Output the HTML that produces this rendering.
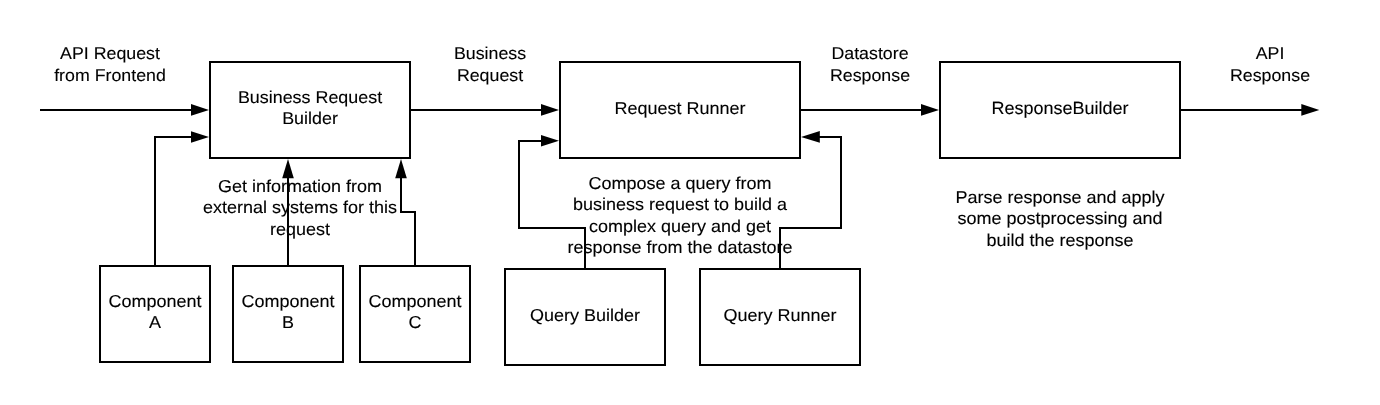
<!DOCTYPE html>
<html lang="en">
<head>
<meta charset="utf-8">
<title>Request pipeline diagram</title>
<style>
html,body{margin:0;padding:0;background:#fff;}
body{width:1380px;height:405px;overflow:hidden;}
svg{display:block;will-change:transform;}
text{font-family:"Liberation Sans",Arial,Helvetica,sans-serif;font-size:18px;text-rendering:geometricPrecision;fill:#000;stroke:#000;stroke-width:0.12px;text-anchor:middle;}
.b{fill:#fff;stroke:#000;stroke-width:2;}
.l{fill:none;stroke:#000;stroke-width:2;stroke-linejoin:miter;}
.h{fill:#000;stroke:none;}
</style>
</head>
<body>
<svg width="1380" height="405" viewBox="0 0 1380 405">
<rect x="0" y="0" width="1380" height="405" fill="#fff"/>
<!-- connectors -->
<g class="l">
<path d="M40 109.9H192"/>
<path d="M410 109.9H542"/>
<path d="M800 109.9H922"/>
<path d="M1180 109.9H1302"/>
<path d="M155 266V137.1H192"/>
<path d="M288 266V177"/>
<path d="M415 266V212H401V177"/>
<path d="M585 269V228H519V141H542"/>
<path d="M780 269V228H841V136.9H818"/>
</g>
<!-- arrow heads -->
<g class="h">
<path d="M209 109.9L191 104.1V115.7Z"/>
<path d="M559 109.9L541 104.1V115.7Z"/>
<path d="M939 109.9L921 104.1V115.7Z"/>
<path d="M1319.3 109.9L1301.3 104.1V115.7Z"/>
<path d="M209 137L191 131.2V142.8Z"/>
<path d="M288 159L282.2 178.2H293.8Z"/>
<path d="M401 159L395.2 178.2H406.8Z"/>
<path d="M559 140.7L541 134.9V146.5Z"/>
<path d="M801 136.9L819.8 131.1V142.7Z"/>
</g>
<!-- boxes -->
<g class="b">
<rect x="210" y="62" width="200" height="96"/>
<rect x="560" y="62" width="240" height="96"/>
<rect x="940" y="62" width="240" height="96"/>
<rect x="100" y="266" width="110" height="96"/>
<rect x="233" y="266" width="110" height="96"/>
<rect x="360" y="266" width="110" height="96"/>
<rect x="505" y="269" width="160" height="96"/>
<rect x="700" y="269" width="160" height="96"/>
</g>
<!-- labels -->
<g>
<text transform="translate(110 59.1) scale(1 0.96)" style="font-size:17.8px">API Request</text>
<text transform="translate(110 80.55) scale(1 0.96)" style="font-size:17.8px">from Frontend</text>
<text transform="translate(490 59.1) scale(1 0.96)" style="font-size:17.8px">Business</text>
<text transform="translate(490 80.55) scale(1 0.96)" style="font-size:17.8px">Request</text>
<text transform="translate(870 59.1) scale(1 0.96)" style="font-size:17.8px">Datastore</text>
<text transform="translate(870 80.55) scale(1 0.96)" style="font-size:17.8px">Response</text>
<text transform="translate(1270 59.1) scale(1 0.96)" style="font-size:17.8px">API</text>
<text transform="translate(1270 80.55) scale(1 0.96)" style="font-size:17.8px">Response</text>
<text transform="translate(310 102.8) scale(1 0.96)" style="font-size:17.9px">Business Request</text>
<text transform="translate(310 124.25) scale(1 0.96)" style="font-size:17.9px">Builder</text>
<text transform="translate(680 114.2) scale(1 0.96)">Request Runner</text>
<text transform="translate(1060 114.2) scale(1 0.98)">ResponseBuilder</text>
<text transform="translate(300 192.0) scale(1 0.96)">Get information from</text>
<text transform="translate(300 213.45) scale(1 0.96)">external systems for this</text>
<text transform="translate(300 234.9) scale(1 0.96)">request</text>
<text transform="translate(680 188.6) scale(1 0.96)">Compose a query from</text>
<text transform="translate(680 210.2) scale(1 0.96)">business request to build a</text>
<text transform="translate(680 231.8) scale(1 0.96)">complex query and get</text>
<text transform="translate(680 253.4) scale(1 0.96)">response from the datastore</text>
<text transform="translate(1060 202.6) scale(1 0.96)">Parse response and apply</text>
<text transform="translate(1060 224.25) scale(1 0.96)">some postprocessing and</text>
<text transform="translate(1060 245.9) scale(1 0.96)">build the response</text>
<text transform="translate(155 306.7) scale(1 0.96)">Component</text>
<text transform="translate(155 328.4) scale(1 0.96)">A</text>
<text transform="translate(288 306.7) scale(1 0.96)">Component</text>
<text transform="translate(288 328.4) scale(1 0.96)">B</text>
<text transform="translate(415 306.7) scale(1 0.96)">Component</text>
<text transform="translate(415 328.4) scale(1 0.96)">C</text>
<text transform="translate(585 320.5) scale(1 0.96)">Query Builder</text>
<text transform="translate(780 320.5) scale(1 0.96)">Query Runner</text>
</g>
</svg>
</body>
</html>
